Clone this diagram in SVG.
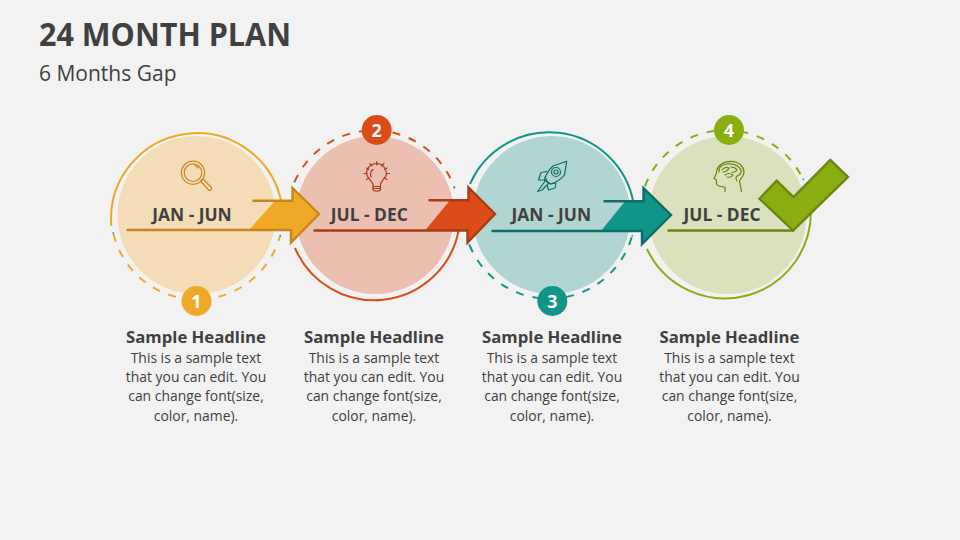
<svg xmlns="http://www.w3.org/2000/svg" width="960" height="540" viewBox="0 0 960 540">
<style>
text{font-family:"Open Sans","Noto Sans","Liberation Sans",sans-serif;fill:#404040}
.title{font-size:32.500px;font-weight:700}
.sub{font-size:21px}
.lab{font-size:17.600px;font-weight:700;text-anchor:middle}
.head{font-size:16.700px;font-weight:700;text-anchor:middle}
.body{font-size:13.900px;text-anchor:middle}
.num{font-size:18px;font-weight:700;text-anchor:middle;fill:#fff}
.ring{fill:none;stroke-width:2}
.dash{stroke-dasharray:8 9}
.edge{fill:none;stroke-width:2.400;stroke-linecap:round;stroke-linejoin:miter}
.ic{fill:none;stroke-width:1.200;stroke-linejoin:round;stroke-linecap:round}
.pt{fill:#3aa0e8}
.o{stroke:#f0a926}.r{stroke:#dc4c18}.t{stroke:#11958a}.g{stroke:#8aad10}
</style>
<rect width="960" height="540" fill="#f2f2f2"/>
<text class="title" x="39" y="45.800" textLength="252" lengthAdjust="spacingAndGlyphs">24 MONTH PLAN</text>
<text class="sub" x="39" y="80.500">6 Months Gap</text>

<g id="node-1">
<circle cx="196.500" cy="215" r="79" fill="#f3dcb6"/>
<path class="ring o" d="M111.300,226 A86,86 0 0 1 281.500,203"/>
<path class="ring o dash" d="M113.500,234 A86,86 0 0 0 280,236"/>
<g class="ic" stroke="#c8861a"><circle cx="193" cy="172.700" r="11.600"/><circle cx="193" cy="172.700" r="8.800"/><path d="M198,168a6,6 0 0 0 -3,-2.500M200.500,181 L203,179 L211.500,187.500 Q212,190 209,190.500Z"/></g>
<circle cx="196.500" cy="301" r="15" fill="#f0a926"/>
<text class="num" x="196.500" y="307.500">1</text>
<text class="lab" x="192" y="221" textLength="79.500" lengthAdjust="spacingAndGlyphs">JAN - JUN</text>
</g>

<g id="node-2">
<circle cx="375" cy="215" r="79" fill="#ecc0b0"/>
<path class="ring r dash" d="M294.500,182 A86,86 0 0 1 454.500,188"/>
<path class="ring r" d="M295,248 A86,86 0 0 0 458.500,231"/>
<g class="ic" stroke="#a83c15"><path d="M373,190 V184 C371,180 366.500,177 366.500,173.500 A9.500,9.500 0 1 1 386.500,173.500 C386.500,177 382,180 380.500,184 V190 Q377,192.500 373,190Z"/><path d="M373,186.500H380.500M373,188.500H380.500M371,177Q369.500,172 373,169.500"/><path d="M376.700,161.500V165M370,163.500L372,166M384,163.500L381.500,166M366.500,168L369,169.500M387,168L384.500,169.500M364,173.500H367M386.500,173.500H389.500M366.500,179.500L369,178M387,179.500L384.500,178"/></g>
<circle cx="376.700" cy="130" r="15" fill="#dc4c18"/>
<text class="num" x="376.700" y="136.500">2</text>
<text class="lab" x="369.300" y="220.800" textLength="77" lengthAdjust="spacingAndGlyphs">JUL - DEC</text>
</g>

<g id="node-3">
<circle cx="551.500" cy="215" r="79" fill="#b0d5d3"/>
<path class="ring t" d="M470,184 A86,86 0 0 1 633.500,203"/>
<path class="ring t dash" d="M469.500,245 A86,86 0 0 0 632,236"/>
<g class="ic" stroke="#0f6e68"><path d="M566.700,161.300 L553,166 Q546.500,172 544.500,180 L550.500,184 Q560,181 564.500,175 Z"/><circle cx="556" cy="172" r="4.500"/><circle cx="556" cy="172" r="2"/><path d="M547,171.500 L541,172.500 L538.500,180 L544.500,180M550.500,184 L556,183 L555,188 L548.500,190 L547.500,186M545,177 L548,183M546,180 L537.500,191.500 L542,190 L549,183"/></g>
<circle cx="552.300" cy="301" r="15" fill="#11958a"/>
<text class="num" x="552.300" y="307.500">3</text>
<text class="lab" x="551.300" y="221" textLength="79.500" lengthAdjust="spacingAndGlyphs">JAN - JUN</text>
</g>

<g id="node-4">
<circle cx="727.500" cy="215" r="79" fill="#dbe1bc"/>
<path class="ring g dash" d="M645,186 A86,86 0 0 1 803,179"/>
<path class="ring g" d="M647,249 A86,86 0 0 0 810.500,205"/>
<g class="ic" stroke="#6a8510"><path d="M725,191.500 V187 C722,187 718,186 716.500,184 V180 L714,178.500 L716.500,173 C716.500,165 724,161.300 731,161.300 C739,161.300 744,167 744,172 C744,176 741,178 739.500,181 L741.500,191.500"/><path d="M719,172 Q718,165 727,164 Q737,163 741,170 Q741.500,175 737,176 Q735,178 737,181M722,170 Q725,166 729,168 Q727,172 723,172M731,167 Q735,167 737,170 Q735,173 732,172M725,175 Q729,172 733,175 Q731,178 727,177"/></g>
<circle cx="729" cy="130" r="15" fill="#8aad10"/>
<text class="num" x="729" y="136.500">4</text>
<text class="lab" x="722" y="221" textLength="77" lengthAdjust="spacingAndGlyphs">JUL - DEC</text>
</g>

<g id="dots">
<circle class="pt" cx="113.300" cy="233" r="1"/><circle class="pt" cx="280.300" cy="235.700" r="1"/><circle class="pt" cx="294.300" cy="181.800" r="1"/><circle class="pt" cx="454.300" cy="187.700" r="1"/><circle class="pt" cx="469.200" cy="244.800" r="1"/><circle class="pt" cx="632.300" cy="235.700" r="1"/><circle class="pt" cx="645.300" cy="185.500" r="1"/><circle class="pt" cx="803.300" cy="179.300" r="1"/>
</g>

<g id="connectors">
<path fill="#f0a926" d="M249,230 L275,200.700 H292.500 V188 L319,214 L291,242.500 V230Z"/>
<path class="edge" stroke="#c8861a" d="M253.500,200.700 H292.500 V188 L319,214 L291,242.500 V230 H127.500"/>
<path fill="#dc4c18" d="M425,230.500 L450,200.300 H468.500 V187.500 L495,214 L467.500,242.500 V230.500Z"/>
<path class="edge" stroke="#a83c15" d="M429.500,200.300 H468.500 V187.500 L495,214 L467.500,242.500 V230.500 H314.500"/>
<path fill="#11958a" d="M601,231 L625,201.300 H643.500 V188 L671,215 L642,244 V231Z"/>
<path class="edge" stroke="#0f6e68" d="M604.500,201.300 H643.500 V188 L671,215 L642,244 V231 H492.500"/>
<path fill="#8aad10" stroke="#6a8510" stroke-width="2.400" stroke-linejoin="miter" d="M793,230.500 L759.500,198.700 L776.700,180.700 L793.500,197 L830.300,160 L848,177Z"/>
<path class="edge" stroke="#6a8510" d="M793,230.500 H668.500"/>
</g>

<g id="text-1">
<text class="head" x="196" y="342.500">Sample Headline</text>
<text class="body" x="196" y="363">This is a sample text</text><text class="body" x="196" y="382">that you can edit. You</text><text class="body" x="196" y="401">can change font(size,</text><text class="body" x="196" y="420.500">color, name).</text>
</g>
<g id="text-2">
<text class="head" x="374" y="342.500">Sample Headline</text>
<text class="body" x="374" y="363">This is a sample text</text><text class="body" x="374" y="382">that you can edit. You</text><text class="body" x="374" y="401">can change font(size,</text><text class="body" x="374" y="420.500">color, name).</text>
</g>
<g id="text-3">
<text class="head" x="552" y="342.500">Sample Headline</text>
<text class="body" x="552" y="363">This is a sample text</text><text class="body" x="552" y="382">that you can edit. You</text><text class="body" x="552" y="401">can change font(size,</text><text class="body" x="552" y="420.500">color, name).</text>
</g>
<g id="text-4">
<text class="head" x="729.500" y="342.500">Sample Headline</text>
<text class="body" x="729.500" y="363">This is a sample text</text><text class="body" x="729.500" y="382">that you can edit. You</text><text class="body" x="729.500" y="401">can change font(size,</text><text class="body" x="729.500" y="420.500">color, name).</text>
</g>
</svg>
